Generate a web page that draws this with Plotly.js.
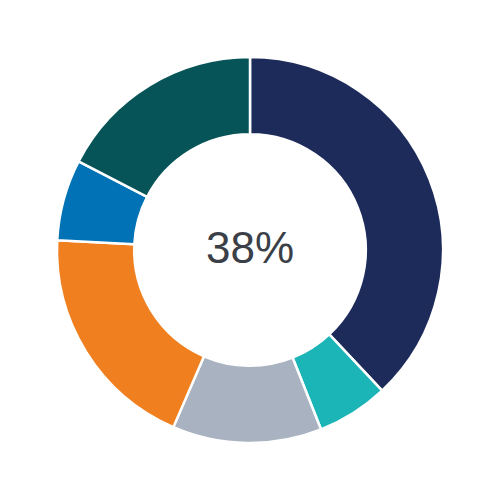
<!DOCTYPE html>
<html>
<head>
<meta charset="utf-8">
<script src="https://cdn.plot.ly/plotly-3.0.1.min.js"></script>
<style>
  html, body { margin: 0; padding: 0; background: #fff; }
  #plot { width: 500px; height: 500px; }
</style>
</head>
<body>
<div id="plot"></div>
<script>
// segments, clockwise from 12 o'clock
let segments = ['A', 'B', 'C', 'D', 'E', 'F'];
let shares = [38, 6, 12.5, 19.3, 6.8, 17.4];
let sliceColors = ['#1d2b5b', '#1bb5b7', '#a8b2c0', '#f07f20', '#0072b5', '#065457'];
let centerLabel = '38%';

let trace = {
  type: 'pie',
  labels: segments,
  values: shares,
  hole: 0.6,
  sort: false,
  direction: 'clockwise',
  rotation: 0,
  textinfo: 'none',
  hoverinfo: 'label+percent',
  marker: {
    colors: sliceColors,
    line: { color: '#ffffff', width: 2.5 }
  }
};

let layout = {
  width: 500,
  height: 500,
  margin: { l: 57, r: 57, t: 57, b: 57 },
  showlegend: false,
  paper_bgcolor: '#ffffff',
  annotations: [{
    text: centerLabel,
    x: 0.5, y: 0.5,
    xref: 'paper', yref: 'paper',
    yshift: 3,
    showarrow: false,
    font: { family: 'Liberation Sans, Arial, sans-serif', size: 44, color: '#3b3f47' }
  }]
};

Plotly.newPlot('plot', [trace], layout, { displayModeBar: false });
</script>
</body>
</html>
